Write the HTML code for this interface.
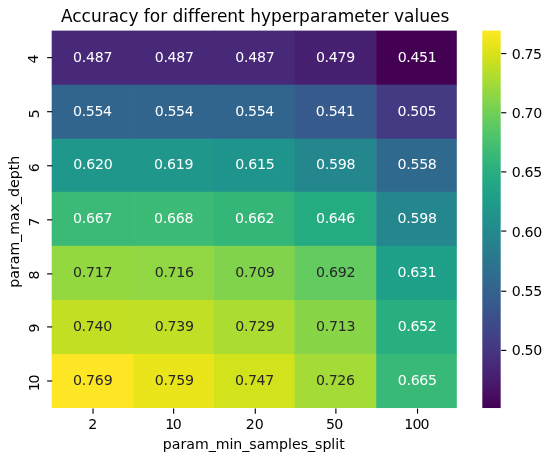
<!DOCTYPE html>
<html><head><meta charset="utf-8"><title>Accuracy for different hyperparameter values</title>
<style>html,body{margin:0;padding:0;background:#fff;width:550px;height:458px;overflow:hidden}</style>
</head><body>
<svg width="550" height="458" viewBox="0 0 550 458" style="display:block">
<rect width="550" height="458" fill="#ffffff"/>
<g>
<rect x="51.70" y="30.61" width="82.23" height="54.66" fill="#482878"/>
<rect x="133.33" y="30.61" width="81.21" height="54.66" fill="#482878"/>
<rect x="213.95" y="30.61" width="81.21" height="54.66" fill="#482878"/>
<rect x="294.56" y="30.61" width="82.23" height="54.66" fill="#482071"/>
<rect x="376.19" y="30.61" width="80.61" height="54.66" fill="#440154"/>
<rect x="51.70" y="84.67" width="82.23" height="54.66" fill="#32658e"/>
<rect x="133.33" y="84.67" width="81.21" height="54.66" fill="#32658e"/>
<rect x="213.95" y="84.67" width="81.21" height="54.66" fill="#32658e"/>
<rect x="294.56" y="84.67" width="82.23" height="54.66" fill="#375b8d"/>
<rect x="376.19" y="84.67" width="80.61" height="54.66" fill="#443a83"/>
<rect x="51.70" y="138.74" width="82.23" height="53.64" fill="#1f988b"/>
<rect x="133.33" y="138.74" width="81.21" height="53.64" fill="#1f978b"/>
<rect x="213.95" y="138.74" width="81.21" height="53.64" fill="#1f948c"/>
<rect x="294.56" y="138.74" width="82.23" height="53.64" fill="#24878e"/>
<rect x="376.19" y="138.74" width="80.61" height="53.64" fill="#30698e"/>
<rect x="51.70" y="191.78" width="82.23" height="54.66" fill="#3aba76"/>
<rect x="133.33" y="191.78" width="81.21" height="54.66" fill="#3bbb75"/>
<rect x="213.95" y="191.78" width="81.21" height="54.66" fill="#34b679"/>
<rect x="294.56" y="191.78" width="82.23" height="54.66" fill="#25ab82"/>
<rect x="376.19" y="191.78" width="80.61" height="54.66" fill="#24878e"/>
<rect x="51.70" y="245.84" width="82.23" height="54.66" fill="#93d741"/>
<rect x="133.33" y="245.84" width="81.21" height="54.66" fill="#90d743"/>
<rect x="213.95" y="245.84" width="81.21" height="54.66" fill="#81d34d"/>
<rect x="294.56" y="245.84" width="82.23" height="54.66" fill="#63cb5f"/>
<rect x="376.19" y="245.84" width="80.61" height="54.66" fill="#1fa088"/>
<rect x="51.70" y="299.90" width="82.23" height="54.66" fill="#c2df23"/>
<rect x="133.33" y="299.90" width="81.21" height="54.66" fill="#c0df25"/>
<rect x="213.95" y="299.90" width="81.21" height="54.66" fill="#aadc32"/>
<rect x="294.56" y="299.90" width="82.23" height="54.66" fill="#89d548"/>
<rect x="376.19" y="299.90" width="80.61" height="54.66" fill="#29af7f"/>
<rect x="51.70" y="353.97" width="82.23" height="54.06" fill="#fde725"/>
<rect x="133.33" y="353.97" width="81.21" height="54.06" fill="#eae51a"/>
<rect x="213.95" y="353.97" width="81.21" height="54.06" fill="#d2e21b"/>
<rect x="294.56" y="353.97" width="82.23" height="54.06" fill="#a5db36"/>
<rect x="376.19" y="353.97" width="80.61" height="54.06" fill="#38b977"/>
</g>
<defs><linearGradient id="cb" x1="0" y1="1" x2="0" y2="0"><stop offset="0.0000" stop-color="#440154"/><stop offset="0.0312" stop-color="#470d60"/><stop offset="0.0625" stop-color="#48186a"/><stop offset="0.0938" stop-color="#482374"/><stop offset="0.1250" stop-color="#472d7b"/><stop offset="0.1562" stop-color="#453781"/><stop offset="0.1875" stop-color="#424086"/><stop offset="0.2188" stop-color="#3e4989"/><stop offset="0.2500" stop-color="#3b528b"/><stop offset="0.2812" stop-color="#375b8d"/><stop offset="0.3125" stop-color="#33638d"/><stop offset="0.3438" stop-color="#2f6b8e"/><stop offset="0.3750" stop-color="#2c728e"/><stop offset="0.4062" stop-color="#297a8e"/><stop offset="0.4375" stop-color="#26828e"/><stop offset="0.4688" stop-color="#23898e"/><stop offset="0.5000" stop-color="#21918c"/><stop offset="0.5312" stop-color="#1f988b"/><stop offset="0.5625" stop-color="#1fa088"/><stop offset="0.5938" stop-color="#22a785"/><stop offset="0.6250" stop-color="#28ae80"/><stop offset="0.6562" stop-color="#32b67a"/><stop offset="0.6875" stop-color="#3fbc73"/><stop offset="0.7188" stop-color="#4ec36b"/><stop offset="0.7500" stop-color="#5ec962"/><stop offset="0.7812" stop-color="#70cf57"/><stop offset="0.8125" stop-color="#84d44b"/><stop offset="0.8438" stop-color="#98d83e"/><stop offset="0.8750" stop-color="#addc30"/><stop offset="0.9062" stop-color="#c2df23"/><stop offset="0.9375" stop-color="#d8e219"/><stop offset="0.9688" stop-color="#ece51b"/><stop offset="1.0000" stop-color="#fde725"/></linearGradient></defs>
<rect x="482.31" y="30.61" width="18.37" height="377.42" fill="url(#cb)"/>
<g stroke="#000000" stroke-width="1.134">
<line x1="93.03" y1="408.54" x2="93.03" y2="413.64"/>
<line x1="173.64" y1="408.54" x2="173.64" y2="413.64"/>
<line x1="255.27" y1="408.54" x2="255.27" y2="413.64"/>
<line x1="335.89" y1="408.54" x2="335.89" y2="413.64"/>
<line x1="417.52" y1="408.54" x2="417.52" y2="413.64"/>
<line x1="47.11" y1="57.64" x2="52.21" y2="57.64"/>
<line x1="47.11" y1="111.70" x2="52.21" y2="111.70"/>
<line x1="47.11" y1="165.77" x2="52.21" y2="165.77"/>
<line x1="47.11" y1="219.83" x2="52.21" y2="219.83"/>
<line x1="47.11" y1="273.89" x2="52.21" y2="273.89"/>
<line x1="47.11" y1="326.93" x2="52.21" y2="326.93"/>
<line x1="47.11" y1="381.00" x2="52.21" y2="381.00"/>
<line x1="501.19" y1="350.40" x2="506.29" y2="350.40"/>
<line x1="501.19" y1="291.23" x2="506.29" y2="291.23"/>
<line x1="501.19" y1="231.05" x2="506.29" y2="231.05"/>
<line x1="501.19" y1="171.89" x2="506.29" y2="171.89"/>
<line x1="501.19" y1="112.73" x2="506.29" y2="112.73"/>
<line x1="501.19" y1="53.56" x2="506.29" y2="53.56"/>
</g>
<g transform="translate(-1.93 -1.04) scale(1.4175)" font-family="'DejaVu Sans', 'Liberation Sans', sans-serif" font-size="10">
<g text-anchor="middle">
<text x="66.404" y="44.086" fill="#ffffff" transform="translate(0.336 0.722)" letter-spacing="-0.185">0.487</text>
<text x="123.543" y="44.086" fill="#ffffff" transform="translate(0.735 0.720)" letter-spacing="-0.211">0.487</text>
<text x="180.682" y="44.086" fill="#ffffff" transform="translate(0.475 0.743)" letter-spacing="-0.192">0.487</text>
<text x="237.822" y="44.086" fill="#ffffff" transform="translate(0.151 0.720)" letter-spacing="-0.219">0.479</text>
<text x="294.961" y="44.086" fill="#ffffff" transform="translate(0.629 0.055)" letter-spacing="-0.263">0.451</text>
<text x="66.404" y="82.102" fill="#ffffff" transform="translate(0.154 0.777)" letter-spacing="-0.263">0.554</text>
<text x="123.543" y="82.102" fill="#ffffff" transform="translate(0.641 0.746)" letter-spacing="-0.296">0.554</text>
<text x="180.682" y="82.102" fill="#ffffff" transform="translate(0.312 0.784)" letter-spacing="-0.263">0.554</text>
<text x="237.822" y="82.102" fill="#ffffff" transform="translate(0.043 0.788)" letter-spacing="-0.238">0.541</text>
<text x="294.961" y="82.102" fill="#ffffff" transform="translate(0.523 0.744)" letter-spacing="-0.257">0.505</text>
<text x="66.404" y="120.118" fill="#ffffff" transform="translate(0.410 0.126)" letter-spacing="-0.182">0.620</text>
<text x="123.543" y="120.118" fill="#ffffff" transform="translate(0.261 0.121)" letter-spacing="-0.180">0.619</text>
<text x="180.682" y="120.118" fill="#ffffff" transform="translate(0.499 0.118)" letter-spacing="-0.184">0.615</text>
<text x="237.822" y="120.118" fill="#ffffff" transform="translate(0.350 0.052)" letter-spacing="-0.185">0.598</text>
<text x="294.961" y="120.118" fill="#ffffff" transform="translate(0.621 0.061)" letter-spacing="-0.237">0.558</text>
<text x="66.404" y="158.134" fill="#ffffff" transform="translate(0.358 0.140)" letter-spacing="-0.162">0.667</text>
<text x="123.543" y="158.134" fill="#ffffff" transform="translate(0.240 0.129)" letter-spacing="-0.180">0.668</text>
<text x="180.682" y="158.134" fill="#ffffff" transform="translate(0.303 0.174)" letter-spacing="-0.206">0.662</text>
<text x="237.822" y="158.134" fill="#ffffff" transform="translate(0.182 0.108)" letter-spacing="-0.221">0.646</text>
<text x="294.961" y="158.134" fill="#ffffff" transform="translate(0.653 0.109)" letter-spacing="-0.218">0.598</text>
<text x="66.404" y="196.150" fill="#262626" transform="translate(0.292 0.224)" letter-spacing="-0.173">0.717</text>
<text x="123.543" y="196.150" fill="#262626" transform="translate(0.725 0.223)" letter-spacing="-0.229">0.716</text>
<text x="180.682" y="196.150" fill="#262626" transform="translate(0.505 0.202)" letter-spacing="-0.183">0.709</text>
<text x="237.822" y="196.150" fill="#262626" transform="translate(0.254 0.217)" letter-spacing="-0.191">0.692</text>
<text x="294.961" y="196.150" fill="#ffffff" transform="translate(0.459 0.224)" letter-spacing="-0.297">0.631</text>
<text x="66.404" y="234.166" fill="#262626" transform="translate(0.181 0.274)" letter-spacing="-0.200">0.740</text>
<text x="123.543" y="234.166" fill="#262626" transform="translate(0.730 0.271)" letter-spacing="-0.205">0.739</text>
<text x="180.682" y="234.166" fill="#262626" transform="translate(0.497 0.285)" letter-spacing="-0.175">0.729</text>
<text x="237.822" y="234.166" fill="#262626" transform="translate(0.257 0.281)" letter-spacing="-0.182">0.713</text>
<text x="294.961" y="234.166" fill="#ffffff" transform="translate(0.618 0.285)" letter-spacing="-0.272">0.652</text>
<text x="66.404" y="272.182" fill="#262626" transform="translate(0.363 0.329)" letter-spacing="-0.140">0.769</text>
<text x="123.543" y="272.182" fill="#262626" transform="translate(0.729 0.333)" letter-spacing="-0.207">0.759</text>
<text x="180.682" y="272.182" fill="#262626" transform="translate(0.236 0.322)" letter-spacing="-0.221">0.747</text>
<text x="237.822" y="272.182" fill="#262626" transform="translate(0.084 0.341)" letter-spacing="-0.250">0.726</text>
<text x="294.961" y="272.182" fill="#ffffff" transform="translate(0.771 0.332)" letter-spacing="-0.193">0.665</text>
</g>
<text x="66.404" y="303.029" text-anchor="middle" transform="translate(0.456 0.214)">2</text>
<text x="123.543" y="303.029" text-anchor="middle" transform="translate(-0.263 0.206)" letter-spacing="-1.034">10</text>
<text x="180.682" y="303.029" text-anchor="middle" transform="translate(0.330 0.216)" letter-spacing="-0.056">20</text>
<text x="237.822" y="303.029" text-anchor="middle" transform="translate(-0.634 0.212)" letter-spacing="-0.486">50</text>
<text x="294.961" y="303.029" text-anchor="middle" transform="translate(0.219 0.213)" letter-spacing="-0.580">100</text>
<text x="180.682" y="316.707" text-anchor="middle" transform="translate(-0.276 0.732)" letter-spacing="-0.020">param_min_samples_split</text>
<g transform="translate(-0.538 0.948)"><text transform="translate(28.755 41.326) rotate(-90)" text-anchor="middle">4</text></g>
<g transform="translate(0.219 1.621)"><text transform="translate(28.755 79.342) rotate(-90)" text-anchor="middle">5</text></g>
<g transform="translate(0.190 1.735)"><text transform="translate(28.755 117.358) rotate(-90)" text-anchor="middle">6</text></g>
<g transform="translate(0.116 1.915)"><text transform="translate(28.755 155.374) rotate(-90)" text-anchor="middle">7</text></g>
<g transform="translate(0.236 1.303)"><text transform="translate(28.755 193.390) rotate(-90)" text-anchor="middle">8</text></g>
<g transform="translate(0.216 0.691)"><text transform="translate(28.755 231.406) rotate(-90)" text-anchor="middle">9</text></g>
<g transform="translate(0.230 1.865)"><text transform="translate(28.755 269.422) rotate(-90)" text-anchor="middle" letter-spacing="-0.825">10</text></g>
<g transform="translate(0.039 1.807)"><text transform="translate(14.798 155.374) rotate(-90)" text-anchor="middle" letter-spacing="-0.015">param_max_depth</text></g>
<text x="361.692" y="251.225" transform="translate(0.750 -0.032)" letter-spacing="-0.279">0.50</text>
<text x="361.692" y="209.383" transform="translate(0.757 -0.134)" letter-spacing="-0.280">0.55</text>
<text x="361.692" y="167.542" transform="translate(0.736 0.418)" letter-spacing="-0.247">0.60</text>
<text x="361.692" y="125.700" transform="translate(0.708 0.250)" letter-spacing="-0.265">0.65</text>
<text x="361.692" y="83.859" transform="translate(0.750 0.070)" letter-spacing="-0.279">0.70</text>
<text x="361.692" y="42.017" transform="translate(0.753 0.006)" letter-spacing="-0.294">0.75</text>
<text x="180.682" y="16.318" text-anchor="middle" font-size="12" transform="translate(0.653 0.225)" letter-spacing="-0.015">Accuracy for different hyperparameter values</text>
</g>
</svg>
</body></html>
